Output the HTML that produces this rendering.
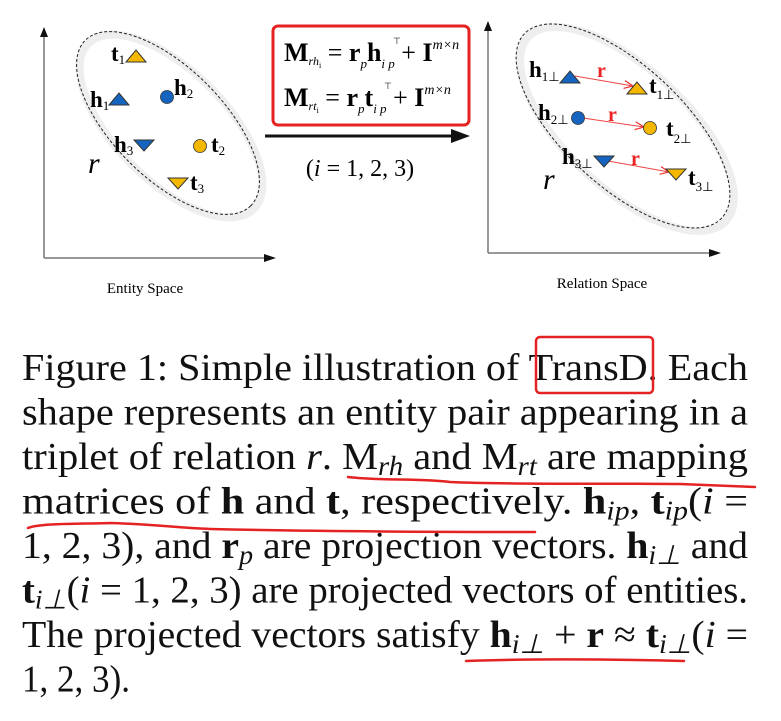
<!DOCTYPE html>
<html><head><meta charset="utf-8"><style>
html,body{margin:0;padding:0;background:#fff;}
svg{display:block;}
text{font-family:"Liberation Serif","Times New Roman",serif;}
</style></head><body>
<svg width="781" height="721" viewBox="0 0 781 721" xmlns="http://www.w3.org/2000/svg">
<defs>
<marker id="rh" markerWidth="10" markerHeight="10" refX="9" refY="5" orient="auto" markerUnits="userSpaceOnUse">
<path d="M0,1 L9,5 L0,9" fill="none" stroke="#e33" stroke-width="1.2"/></marker>
</defs>

<!-- LEFT PANEL -->
<line x1="44" y1="258" x2="44" y2="30" stroke="#777" stroke-width="1.5"/>
<path d="M44,27 L40,37 L48,37 Z" fill="#111"/>
<line x1="44" y1="258" x2="270" y2="258" stroke="#777" stroke-width="1.5"/>
<path d="M276,258 L264,254 L264,262 Z" fill="#111"/>
<ellipse cx="171" cy="126" rx="117" ry="55" transform="rotate(45 171 126)" fill="none" stroke="#eee" stroke-width="8"/>
<ellipse cx="168" cy="123" rx="117" ry="55" transform="rotate(45 168 123)" fill="none" stroke="#222" stroke-width="1" stroke-dasharray="3,2"/>
<g font-weight="bold" font-size="23">
<text x="111" y="61">t<tspan font-size="13" font-weight="normal" dy="3">1</tspan></text>
<text x="90" y="107">h<tspan font-size="13" font-weight="normal" dy="3">1</tspan></text>
<text x="174" y="95">h<tspan font-size="13" font-weight="normal" dy="3">2</tspan></text>
<text x="114" y="152">h<tspan font-size="13" font-weight="normal" dy="3">3</tspan></text>
<text x="211" y="152">t<tspan font-size="13" font-weight="normal" dy="3">2</tspan></text>
<text x="190" y="190">t<tspan font-size="13" font-weight="normal" dy="3">3</tspan></text>
</g>
<path d="M126,62 L136,50 L146,62 Z" fill="#f5b800" stroke="#333" stroke-width="1"/>
<path d="M109,105 L119,93 L129,105 Z" fill="#1565c0" stroke="#333" stroke-width="1"/>
<circle cx="167" cy="97" r="6.5" fill="#1565c0" stroke="#333" stroke-width="0.8"/>
<path d="M134,140 L154,140 L144,151 Z" fill="#1565c0" stroke="#333" stroke-width="1"/>
<circle cx="200" cy="146" r="6.5" fill="#f5b800" stroke="#333" stroke-width="0.8"/>
<path d="M168,178 L188,178 L178,189 Z" fill="#f5b800" stroke="#333" stroke-width="1"/>
<text x="88" y="173" font-size="30" font-style="italic">r</text>
<text x="145" y="293" font-size="15" text-anchor="middle">Entity Space</text>

<!-- FORMULA BOX -->
<rect x="273" y="26" width="196" height="99" rx="5" fill="#fff" stroke="#e52222" stroke-width="3"/>
<g font-size="26" font-weight="bold">
<text x="284" y="61">M<tspan font-size="12" font-style="italic" font-weight="normal" dy="4">rh</tspan><tspan font-size="8" font-weight="normal" dy="3">i</tspan><tspan dy="-7" font-weight="normal"> = </tspan>r<tspan font-size="13" font-style="italic" font-weight="normal" dy="7">p</tspan><tspan dy="-7">h</tspan><tspan font-size="13" font-style="italic" font-weight="normal" dy="7">i p</tspan><tspan font-weight="normal" dy="-7"> + </tspan>I<tspan font-size="14" font-style="italic" font-weight="normal" dy="-12">m×n</tspan></text>
<text x="284" y="106">M<tspan font-size="12" font-style="italic" font-weight="normal" dy="4">rt</tspan><tspan font-size="8" font-weight="normal" dy="3">i</tspan><tspan dy="-7" font-weight="normal"> = </tspan>r<tspan font-size="13" font-style="italic" font-weight="normal" dy="7">p</tspan><tspan dy="-7">t</tspan><tspan font-size="13" font-style="italic" font-weight="normal" dy="7">i p</tspan><tspan font-weight="normal" dy="-7"> + </tspan>I<tspan font-size="14" font-style="italic" font-weight="normal" dy="-12">m×n</tspan></text>
</g>
<text x="393" y="44" font-size="9">⊤</text>
<text x="384" y="89" font-size="9">⊤</text>
<line x1="265" y1="136" x2="452" y2="136" stroke="#111" stroke-width="3"/>
<path d="M470,136 L451,129 L451,143 Z" fill="#111"/>
<text x="360" y="176" font-size="24" text-anchor="middle">(<tspan font-style="italic">i</tspan> = 1, 2, 3)</text>

<!-- RIGHT PANEL -->
<line x1="488" y1="253" x2="488" y2="25" stroke="#777" stroke-width="1.5"/>
<path d="M488,21 L484,31 L492,31 Z" fill="#111"/>
<line x1="488" y1="253" x2="715" y2="253" stroke="#777" stroke-width="1.5"/>
<path d="M721,253 L709,249 L709,257 Z" fill="#111"/>
<ellipse cx="627" cy="129" rx="135" ry="60" transform="rotate(43 627 129)" fill="none" stroke="#eee" stroke-width="8"/>
<ellipse cx="623" cy="126" rx="135" ry="60" transform="rotate(43 623 126)" fill="none" stroke="#222" stroke-width="1" stroke-dasharray="3,2"/>
<g stroke="#e44" stroke-width="1">
<line x1="575" y1="76" x2="633" y2="86" marker-end="url(#rh)"/>
<line x1="583" y1="118" x2="644" y2="127" marker-end="url(#rh)"/>
<line x1="608" y1="161" x2="669" y2="172" marker-end="url(#rh)"/>
</g>
<g fill="#e22" font-weight="bold" font-size="20">
<text x="597" y="77">r</text><text x="608" y="121">r</text><text x="631" y="165">r</text>
</g>
<path d="M560,83 L570,71 L580,83 Z" fill="#1565c0" stroke="#333" stroke-width="1"/>
<path d="M627,94 L637,82 L647,94 Z" fill="#f5b800" stroke="#333" stroke-width="1"/>
<circle cx="578" cy="118" r="6.5" fill="#1565c0" stroke="#333" stroke-width="0.8"/>
<circle cx="650" cy="128" r="6.5" fill="#f5b800" stroke="#333" stroke-width="0.8"/>
<path d="M594,156 L614,156 L604,167 Z" fill="#1565c0" stroke="#333" stroke-width="1"/>
<path d="M666,169 L686,169 L676,180 Z" fill="#f5b800" stroke="#333" stroke-width="1"/>
<g font-weight="bold" font-size="23">
<text x="529" y="77">h<tspan font-size="13" font-weight="normal" dy="4">1⊥</tspan></text>
<text x="649" y="93">t<tspan font-size="13" font-weight="normal" dy="6">1⊥</tspan></text>
<text x="538" y="120">h<tspan font-size="13" font-weight="normal" dy="4">2⊥</tspan></text>
<text x="666" y="136">t<tspan font-size="13" font-weight="normal" dy="7">2⊥</tspan></text>
<text x="562" y="164">h<tspan font-size="13" font-weight="normal" dy="4">3⊥</tspan></text>
<text x="688" y="185">t<tspan font-size="13" font-weight="normal" dy="6">3⊥</tspan></text>
</g>
<text x="543" y="189" font-size="30" font-style="italic">r</text>
<text x="602" y="288" font-size="15" text-anchor="middle">Relation Space</text>

<!-- CAPTION -->
<g font-size="38" fill="#111">
<text x="22" y="380" textLength="726" lengthAdjust="spacingAndGlyphs">Figure 1:  Simple illustration of TransD. Each</text>
<text x="22" y="424.5" textLength="726" lengthAdjust="spacingAndGlyphs">shape represents an entity pair appearing in a</text>
<text x="22" y="469" textLength="726" lengthAdjust="spacingAndGlyphs">triplet of relation <tspan font-style="italic">r</tspan>.  M<tspan font-size="27" font-style="italic" dy="6">rh</tspan><tspan dy="-6"> and M</tspan><tspan font-size="27" font-style="italic" dy="6">rt</tspan><tspan dy="-6"> are mapping</tspan></text>
<text x="22" y="513.5" textLength="726" lengthAdjust="spacingAndGlyphs">matrices of <tspan font-weight="bold">h</tspan> and <tspan font-weight="bold">t</tspan>, respectively.  <tspan font-weight="bold">h</tspan><tspan font-size="27" font-style="italic" dy="6">ip</tspan><tspan dy="-6">, </tspan><tspan font-weight="bold">t</tspan><tspan font-size="27" font-style="italic" dy="6">ip</tspan><tspan dy="-6">(<tspan font-style="italic">i</tspan> =</tspan></text>
<text x="22" y="558" textLength="726" lengthAdjust="spacingAndGlyphs">1, 2, 3), and <tspan font-weight="bold">r</tspan><tspan font-size="27" font-style="italic" dy="6">p</tspan><tspan dy="-6"> are projection vectors.  </tspan><tspan font-weight="bold">h</tspan><tspan font-size="27" font-style="italic" dy="6">i⊥</tspan><tspan dy="-6"> and</tspan></text>
<text x="22" y="602.5" textLength="726" lengthAdjust="spacingAndGlyphs"><tspan font-weight="bold">t</tspan><tspan font-size="27" font-style="italic" dy="6">i⊥</tspan><tspan dy="-6">(<tspan font-style="italic">i</tspan> = 1, 2, 3) are projected vectors of entities.</tspan></text>
<text x="22" y="647" textLength="726" lengthAdjust="spacingAndGlyphs">The projected vectors satisfy <tspan font-weight="bold">h</tspan><tspan font-size="27" font-style="italic" dy="6">i⊥</tspan><tspan dy="-6"> + <tspan font-weight="bold">r</tspan> ≈ <tspan font-weight="bold">t</tspan></tspan><tspan font-size="27" font-style="italic" dy="6">i⊥</tspan><tspan dy="-6">(<tspan font-style="italic">i</tspan> =</tspan></text>
<text x="22" y="691.5" textLength="108" lengthAdjust="spacingAndGlyphs">1, 2, 3).</text>
</g>

<!-- RED ANNOTATIONS -->
<rect x="536" y="337" width="117" height="56" rx="4" fill="none" stroke="#e52222" stroke-width="2.5"/>
<path d="M348,477 C380,481 420,478 450,482 C520,485 600,483 680,484 C710,485 735,486 755,487" fill="none" stroke="#e52222" stroke-width="2.5" stroke-linecap="round"/>
<path d="M28,528 C40,523 80,524 110,523 C150,524 180,528 210,529 C300,531 420,532 535,532" fill="none" stroke="#e52222" stroke-width="2.5" stroke-linecap="round"/>
<path d="M466,661 C520,659 600,659 684,661" fill="none" stroke="#e52222" stroke-width="2.5" stroke-linecap="round"/>
</svg>
</body></html>
